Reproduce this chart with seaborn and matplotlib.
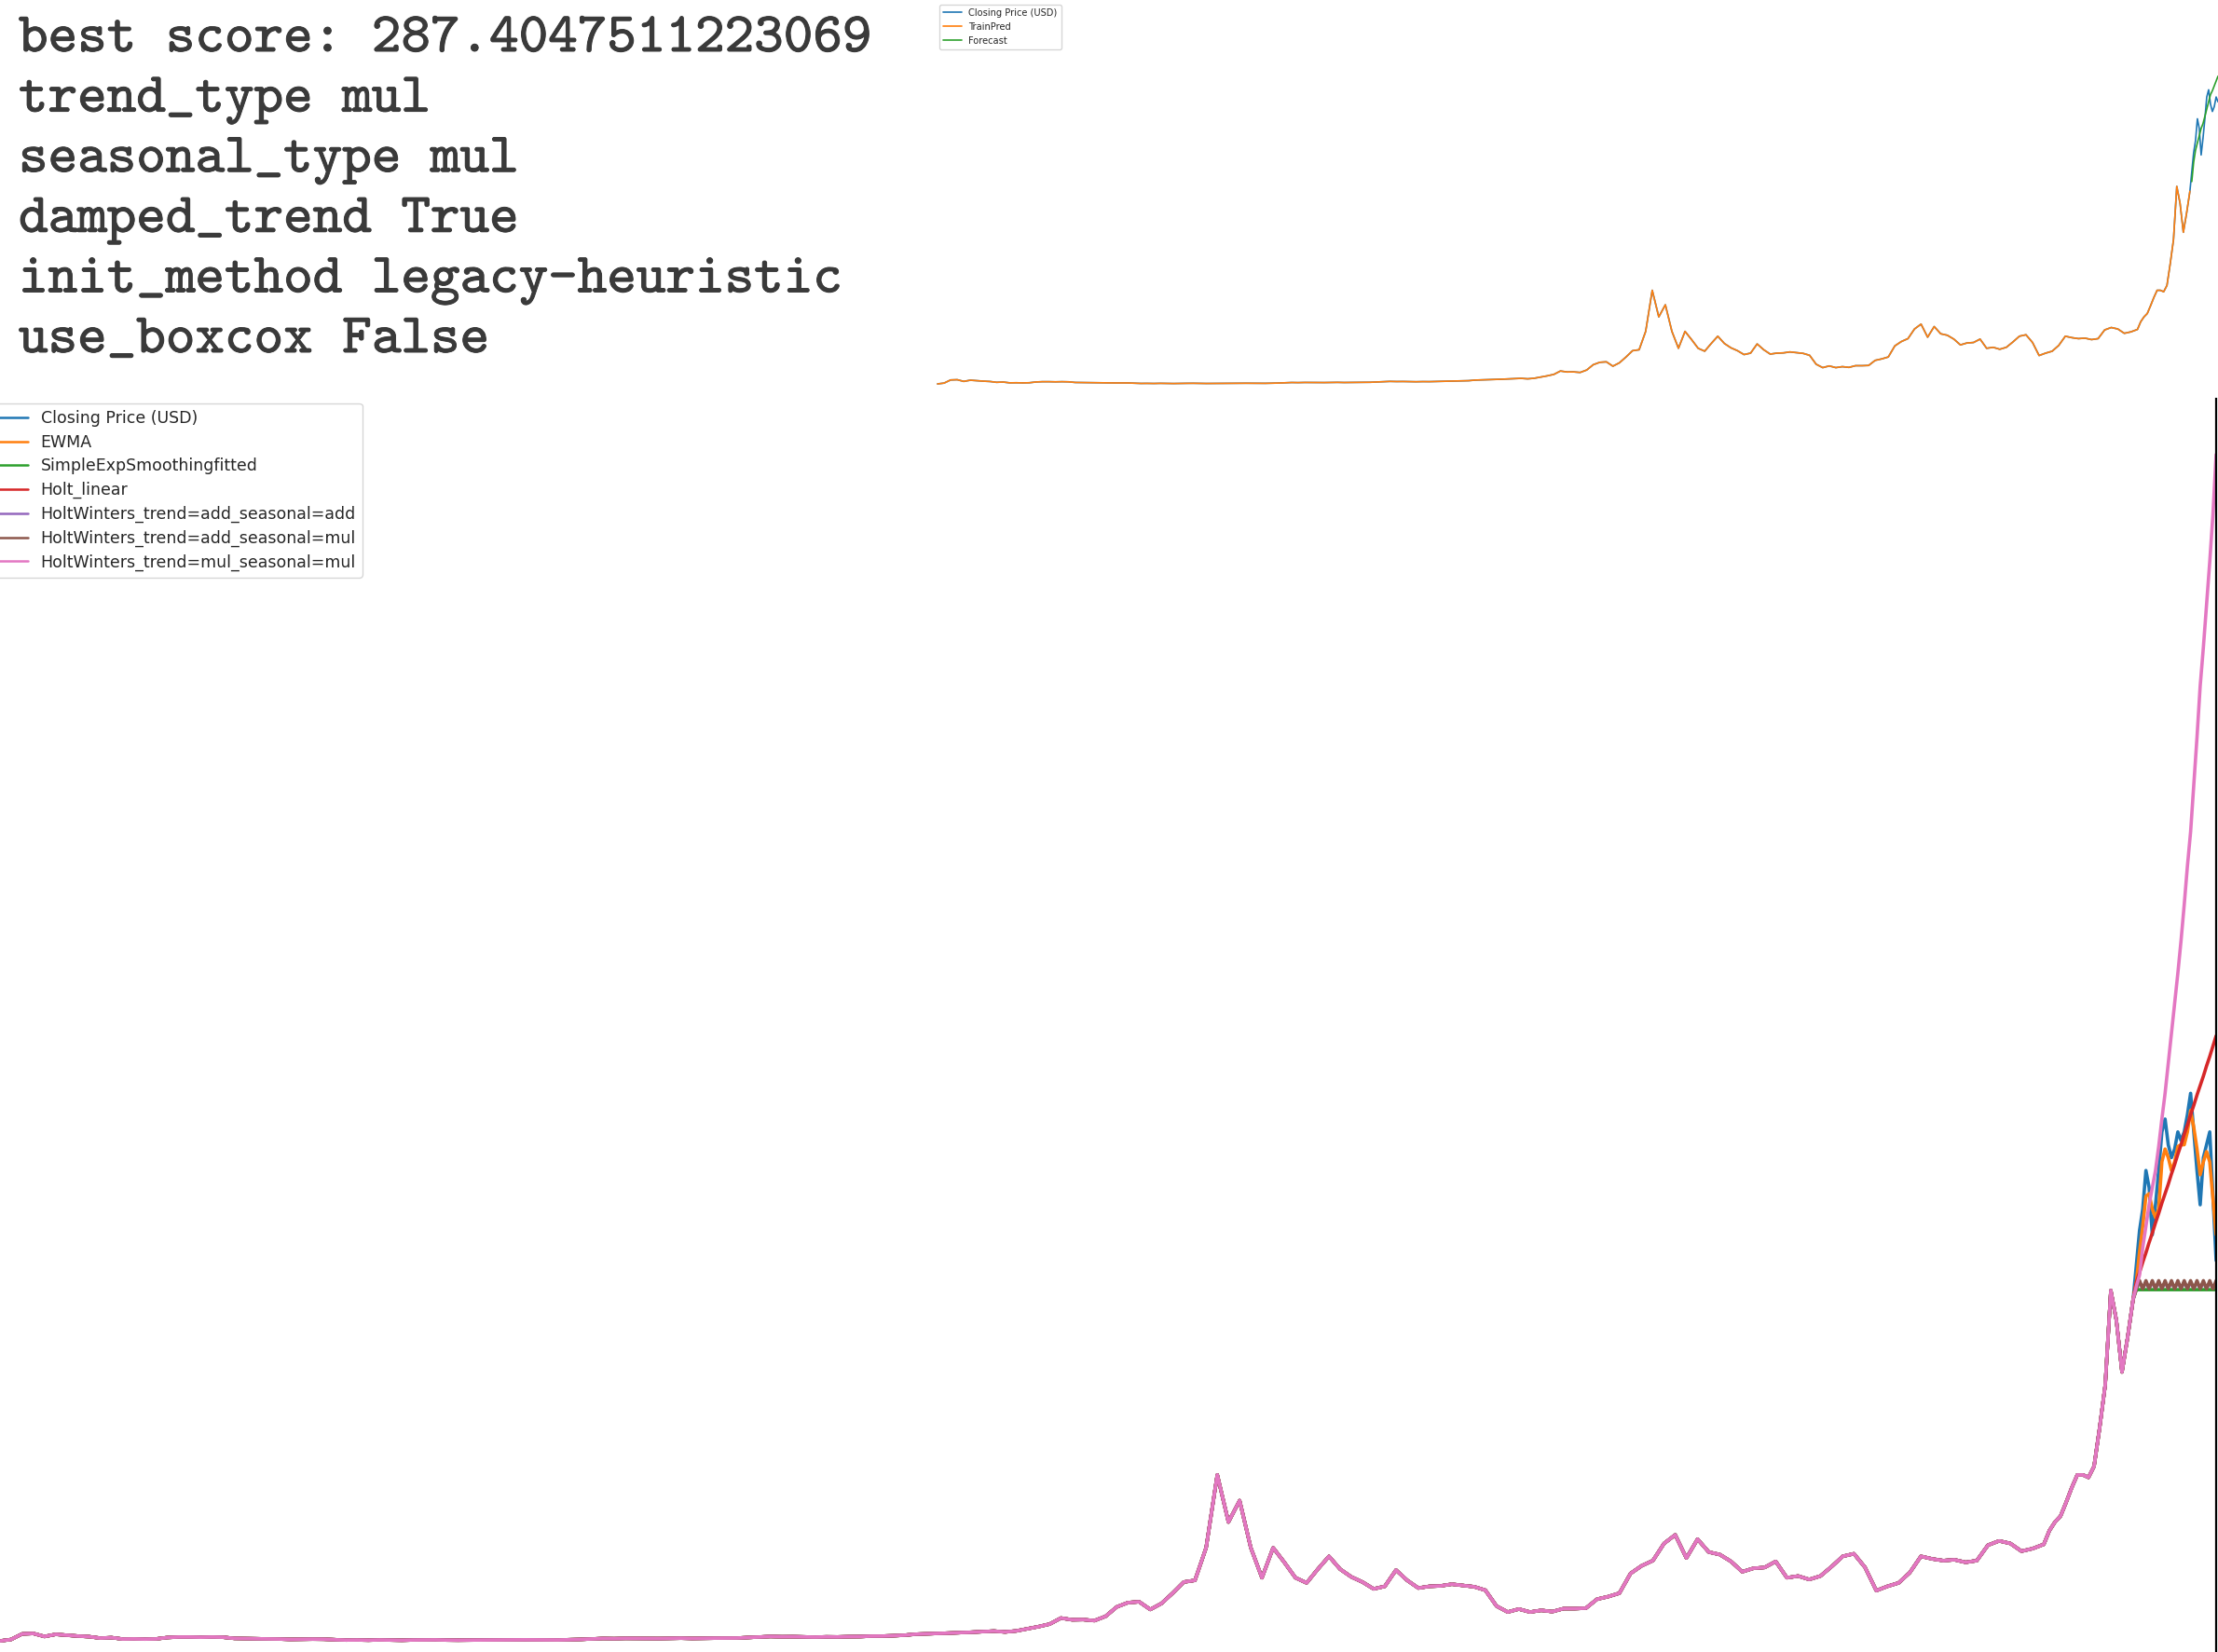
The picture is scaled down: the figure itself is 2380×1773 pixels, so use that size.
import matplotlib
matplotlib.use("Agg")
import numpy as np
import pandas as pd
import matplotlib.pyplot as plt
import matplotlib.patheffects as pe
import seaborn as sns

# ---- data (USD) ----
# closing price, two-week steps, Oct 2013 .. Oct 2020
close_biweekly = [
    130, 300, 950, 1000, 650, 900, 800, 700, 630, 460,
    520, 350, 370, 340, 370, 530, 590, 590, 560, 590,
    560, 430, 410, 380, 370, 350, 310, 330, 340, 330,
    280, 230, 240, 220, 250, 230, 210, 240, 250, 260,
    230, 220, 230, 240, 250, 260, 280, 270, 260, 240,
    250, 280, 310, 370, 420, 400, 430, 420, 400, 410,
    430, 450, 420, 440, 450, 460, 470, 530, 590, 650,
    620, 630, 600, 580, 610, 600, 630, 640, 690, 700,
    740, 800, 920, 960, 1000, 1050, 1100, 1150, 1220, 1280,
    1180, 1300, 1550, 1800, 2100, 2800, 2600, 2620, 2500, 3000,
    4100, 4600, 4700, 3800, 4500, 5700, 7000, 7200, 11000, 19500,
    14000, 16500, 11000, 7500, 11000, 9300, 7500, 6900, 8500, 10000,
    8500, 7600, 7000, 6200, 6500, 8400, 7200, 6300, 6500, 6550,
    6750, 6600, 6450, 6050, 4200, 3500, 3850, 3500, 3700, 3550,
    3900, 3900, 3950, 5000, 5300, 5700, 8000, 8900, 9500, 11500,
    12500, 9800, 12000, 10500, 10200, 9400, 8200, 8600, 8700, 9400,
    7500, 7700, 7300, 7700, 8800, 10000, 10300, 8700, 6000, 6500,
    6900, 8100, 10000, 9700, 9500, 9600, 9300, 9500, 11300, 11800,
    11500, 10600, 10900, 11400,
]
# weekly steps, Oct 2020 .. end of Jan 2021
close_weekly = [13000, 14000, 14700, 16300, 18000, 19500, 19500, 19200,
                20500, 25000, 30000, 41000, 37500, 31500, 35500, 40000]

# test period, 4-day steps from Feb 2021
close_test = [44000, 48000, 50500, 55000, 53000, 47500, 51000, 55000, 59500, 61000,
              58000, 56500, 57500, 59500, 58500, 59500, 61500, 64000, 59500, 55000,
              51000, 56500, 58000, 59500, 52000, 44500]
ewma_test = [42000, 45500, 48500, 52000, 52300, 50500, 49500, 50500, 56000, 57500,
             56500, 55000, 56000, 57800, 58000, 58000, 59500, 62000, 60000, 57500,
             54500, 56000, 57200, 56000, 51700, 47500]
ses_forecast = [41100, 41100, 41100, 41100, 41100, 41100, 41100, 41100, 41100, 41100,
                41100, 41100, 41100, 41100, 41100, 41100, 41100, 41100, 41100, 41100,
                41100, 41100, 41100, 41100, 41100, 41100]
holt_forecast = [42000, 43100, 44300, 45400, 46600, 47700, 48900, 50000, 51200, 52300,
                 53400, 54600, 55700, 56900, 58000, 59200, 60300, 61500, 62600, 63800,
                 64900, 66000, 67200, 68300, 69500, 70700]
hw_add_add = [41300, 41900, 41300, 41900, 41300, 41900, 41300, 41900, 41300, 41900,
              41300, 41900, 41300, 41900, 41300, 41900, 41300, 41900, 41300, 41900,
              41300, 41900, 41300, 41900, 41300, 41900]
hw_add_mul = [41200, 42150, 41200, 42150, 41200, 42150, 41200, 42150, 41200, 42150,
              41200, 42150, 41200, 42150, 41200, 42150, 41200, 42150, 41200, 42150,
              41200, 42150, 41200, 42150, 41200, 42150]
hw_mul_mul = [41500, 42800, 46000, 48500, 51000, 53000, 55000, 57800, 61000, 64000,
              67500, 71000, 74500, 78000, 81800, 86000, 90500, 94500, 100000, 105500,
              111500, 116000, 121000, 126000, 131500, 138500]

# forecast of the small (best params) chart
best_forecast = [42000, 46000, 48500, 50000, 51500, 53000, 54000, 55500, 57000,
                 58500, 60000, 60800, 61800, 62800, 63800]

param_lines = [
    "best score: 287.4047511223069",
    "trend_type mul",
    "seasonal_type mul",
    "damped_trend True",
    "init_method legacy-heuristic",
    "use_boxcox False",
]

main_labels = [
    "Closing Price (USD)",
    "EWMA",
    "SimpleExpSmoothingfitted",
    "Holt_linear",
    "HoltWinters_trend=add_seasonal=add",
    "HoltWinters_trend=add_seasonal=mul",
    "HoltWinters_trend=mul_seasonal=mul",
]

train_dates = pd.date_range("2013-10-06", periods=len(close_biweekly), freq="14D").append(
    pd.date_range("2020-10-18", periods=len(close_weekly), freq="7D"))
test_dates = pd.date_range("2021-02-04", periods=len(close_test), freq="4D")
all_dates = train_dates.append(test_dates)
close_train = close_biweekly + close_weekly

# fitted values are indistinguishable from the closing price in the train part
main_values = [
    close_train + close_test,
    close_train + ewma_test,
    close_train + ses_forecast,
    close_train + holt_forecast,
    close_train + hw_add_add,
    close_train + hw_add_mul,
    close_train + hw_mul_mul,
]
main_df = pd.concat(
    [pd.DataFrame({"date": all_dates, "price": v, "series": n}) for n, v in zip(main_labels, main_values)],
    ignore_index=True,
)

W, H = 2380, 1773
sns.set_style("white")
palette = sns.color_palette("tab10")

fig = plt.figure(figsize=(W / 100, H / 100), dpi=100)
fig.patch.set_facecolor("white")

# ---- big chart (bottom) ----
ax = fig.add_axes([-19 / W, 0, (2378 + 19) / W, (H - 428) / H])
sns.lineplot(data=main_df, x="date", y="price", hue="series", hue_order=main_labels,
             palette=palette[:7], linewidth=2.6, estimator=None, ax=ax)
ax.set_xlim(pd.Timestamp("2013-09-14"), test_dates[-1])
ax.set_ylim(-1160, 145000)
ax.set_xticks([])
ax.set_yticks([])
ax.set_xlabel("")
ax.set_ylabel("")
sns.despine(ax=ax, left=True, bottom=True, top=True, right=False)
ax.spines["right"].set_color("black")
ax.spines["right"].set_linewidth(1.6)
handles, labels = ax.get_legend_handles_labels()
leg = ax.legend(handles, labels, loc="upper left", bbox_to_anchor=(-12 / W, 1 - 433 / H),
                bbox_transform=fig.transFigure, borderaxespad=0, fontsize=12.5,
                labelspacing=0.44, frameon=True, fancybox=True, edgecolor="0.8",
                framealpha=0.8)
for line in leg.get_lines():
    line.set_linewidth(1.8)

# ---- small chart (top right) ----
axt = fig.add_axes([1003 / W, 1 - 428 / H, (W - 1003) / W, 428 / H])
axt.set_facecolor("none")
sns.lineplot(x=all_dates, y=close_train + close_test, color=palette[0], linewidth=1.2,
             label="Closing Price (USD)", ax=axt)
sns.lineplot(x=train_dates, y=close_train, color=palette[1], linewidth=1.2,
             label="TrainPred", ax=axt)
sns.lineplot(x=test_dates[:len(best_forecast)], y=best_forecast, color=palette[2],
             linewidth=1.2, label="Forecast", ax=axt)
axt.set_xlim(pd.Timestamp("2013-09-30"), pd.Timestamp("2021-04-01"))
axt.set_ylim(-2950, 79570)
axt.set_xticks([])
axt.set_yticks([])
axt.set_xlabel("")
axt.set_ylabel("")
sns.despine(ax=axt, left=True, bottom=True, top=True, right=True)
legt = axt.legend(loc="upper left", fontsize=7.1, frameon=True, fancybox=True,
                  edgecolor="0.8", framealpha=0.8)
for line in legt.get_lines():
    line.set_linewidth(1.2)

# ---- parameter text (top left) ----
for i, txt in enumerate(param_lines):
    fig.text(20 / W, 1 - (55 + 64.6 * i) / H, txt, family="cmtt10",
             fontsize=43.3, color="#3a3a3a", va="baseline", ha="left",
             path_effects=[pe.withStroke(linewidth=0.7, foreground="#3a3a3a")])

fig.savefig("out.png", dpi=100)
